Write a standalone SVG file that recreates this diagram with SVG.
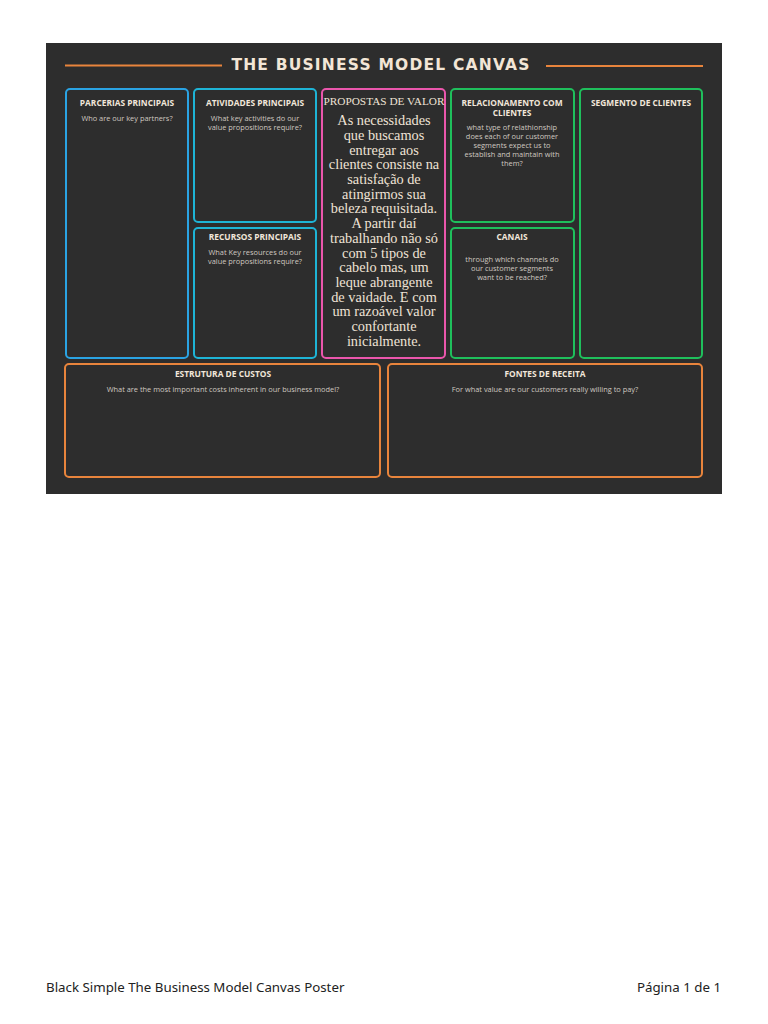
<svg xmlns="http://www.w3.org/2000/svg" width="768" height="1024" viewBox="0 0 768 1024">
<style>
.box{fill:#2d2d2d;stroke-width:2}
.blue{stroke:#2aa3e3}
.cyan{stroke:#1eb4d6}
.pink{stroke:#ea56ac}
.green{stroke:#1fbf5c}
.orange{stroke:#e8843c}
.h{font-family:"Open Sans","Liberation Sans",sans-serif;font-weight:bold;font-size:8.4px;fill:#f1e6da;text-anchor:middle}
.b{font-family:"Open Sans","Liberation Sans",sans-serif;font-size:7.4px;fill:#cfc8c0;text-anchor:middle}
.s{font-family:"Liberation Serif","DejaVu Serif",serif;font-size:14.3px;fill:#efe3d6;text-anchor:middle}
.f{font-family:"Noto Sans","Liberation Sans",sans-serif;font-size:13.3px;fill:#222}
</style>
<rect width="768" height="1024" fill="#ffffff"/>
<rect x="46" y="43" width="676" height="451" fill="#2d2d2d"/>
<line x1="65" y1="65.5" x2="222" y2="65.5" stroke="#e8843c" stroke-width="2"/>
<line x1="546" y1="66" x2="703" y2="66" stroke="#e8843c" stroke-width="2"/>
<text x="381" y="70" font-family="'DejaVu Sans','Liberation Sans',sans-serif" font-weight="bold" font-size="15.5" fill="#f3e6d6" text-anchor="middle" letter-spacing="1.2">THE BUSINESS MODEL CANVAS</text>

<g id="parcerias">
<rect class="box blue" x="66" y="89" width="122" height="269" rx="4"/>
<text class="h" x="127" y="106">PARCERIAS PRINCIPAIS</text>
<text class="b" x="127" y="121">Who are our key partners?</text>
</g>
<g id="atividades">
<rect class="box cyan" x="194" y="89" width="122" height="133" rx="4"/>
<text class="h" x="255" y="106">ATIVIDADES PRINCIPAIS</text>
<text class="b" x="255" y="121">What key activities do our</text>
<text class="b" x="255" y="130">value propositions require?</text>
</g>
<g id="recursos">
<rect class="box cyan" x="194" y="228" width="122" height="130" rx="4"/>
<text class="h" x="255" y="240">RECURSOS PRINCIPAIS</text>
<text class="b" x="255" y="255">What Key resources do our</text>
<text class="b" x="255" y="264">value propositions require?</text>
</g>
<g id="propostas">
<rect class="box pink" x="322" y="89" width="123" height="269" rx="4"/>
<text x="384" y="105" font-family="'Liberation Serif','DejaVu Serif',serif" font-size="11.3" fill="#efe3d6" text-anchor="middle">PROPOSTAS DE VALOR</text>
<text class="s" x="384" y="125">As necessidades</text>
<text class="s" x="384" y="140">que buscamos</text>
<text class="s" x="384" y="155">entregar aos</text>
<text class="s" x="384" y="169">clientes consiste na</text>
<text class="s" x="384" y="184">satisfação de</text>
<text class="s" x="384" y="199">atingirmos sua</text>
<text class="s" x="384" y="213">beleza requisitada.</text>
<text class="s" x="384" y="228">A partir daí</text>
<text class="s" x="384" y="243">trabalhando não só</text>
<text class="s" x="384" y="258">com 5 tipos de</text>
<text class="s" x="384" y="272">cabelo mas, um</text>
<text class="s" x="384" y="287">leque abrangente</text>
<text class="s" x="384" y="302">de vaidade. E com</text>
<text class="s" x="384" y="316">um razoável valor</text>
<text class="s" x="384" y="331">confortante</text>
<text class="s" x="384" y="346">inicialmente.</text>
</g>
<g id="relacionamento">
<rect class="box green" x="451" y="89" width="123" height="133" rx="4"/>
<text class="h" x="512" y="106">RELACIONAMENTO COM</text>
<text class="h" x="512" y="116">CLIENTES</text>
<text class="b" x="512" y="130">what type of relathionship</text>
<text class="b" x="512" y="139">does each of our customer</text>
<text class="b" x="512" y="148">segments expect us to</text>
<text class="b" x="512" y="157">establish and maintain with</text>
<text class="b" x="512" y="166">them?</text>
</g>
<g id="canais">
<rect class="box green" x="451" y="228" width="123" height="130" rx="4"/>
<text class="h" x="512" y="240">CANAIS</text>
<text class="b" x="512" y="262">through which channels do</text>
<text class="b" x="512" y="271">our customer segments</text>
<text class="b" x="512" y="280">want to be reached?</text>
</g>
<g id="segmento">
<rect class="box green" x="580" y="89" width="122" height="269" rx="4"/>
<text class="h" x="641" y="106">SEGMENTO  DE CLIENTES</text>
</g>
<g id="estrutura">
<rect class="box orange" x="65" y="364" width="315" height="113" rx="4"/>
<text class="h" x="223" y="377">ESTRUTURA  DE CUSTOS</text>
<text class="b" x="223" y="392">What are the most important costs inherent in our business model?</text>
</g>
<g id="fontes">
<rect class="box orange" x="388" y="364" width="314" height="113" rx="4"/>
<text class="h" x="545" y="377">FONTES DE RECEITA</text>
<text class="b" x="545" y="392">For what value are our customers really willing to pay?</text>
</g>
<g id="connectors"></g>
<text class="f" x="46" y="992">Black Simple The Business Model Canvas Poster</text>
<text class="f" x="721" y="992" text-anchor="end">Página 1 de 1</text>
</svg>
